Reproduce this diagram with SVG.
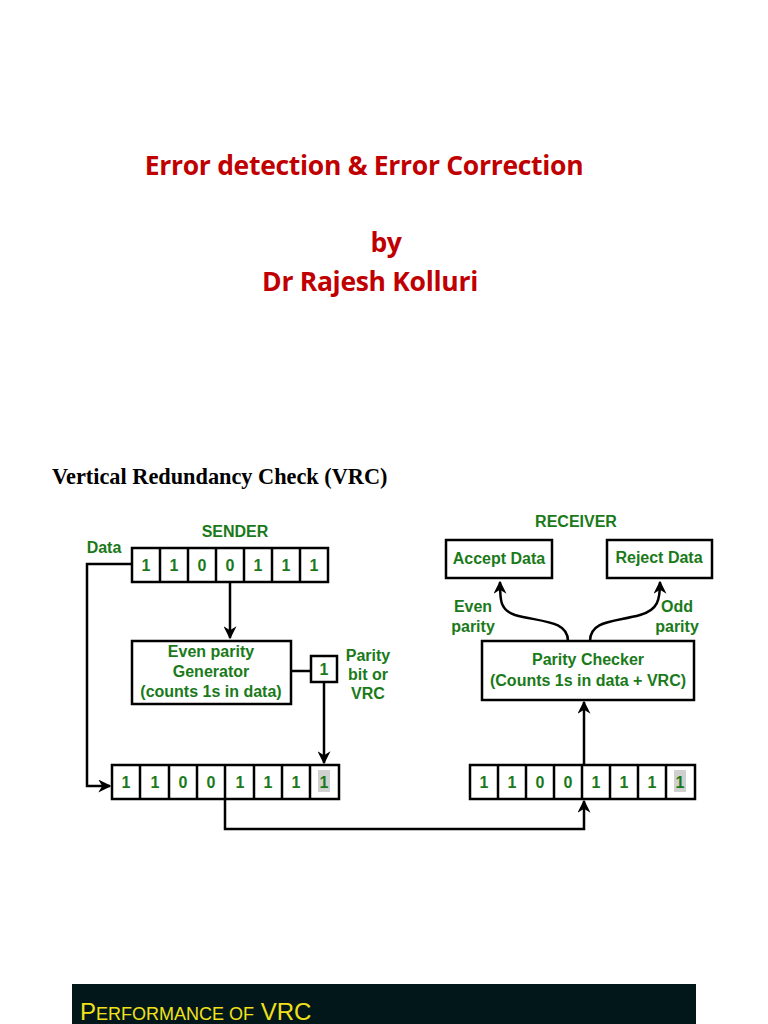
<svg xmlns="http://www.w3.org/2000/svg" width="768" height="1024" viewBox="0 0 768 1024">
<defs>
<marker id="ah" viewBox="0 0 10 10" refX="9" refY="5" markerWidth="13" markerHeight="13" markerUnits="userSpaceOnUse" orient="auto"><path d="M0,0 L10,5 L0,10 L3,5 z" fill="#000"/></marker>
<style>
.t{font-family:"Open Sans","Noto Sans",sans-serif;font-weight:bold;fill:#c00000;font-size:26.5px;text-anchor:middle;letter-spacing:-0.3px}
.g{font-family:"Liberation Sans",Arial,sans-serif;font-weight:bold;fill:#1a7a1a;font-size:16px;text-anchor:middle}
.b{fill:#fff;stroke:#000;stroke-width:2.5}
.c{fill:none;stroke:#000;stroke-width:2.5}
</style>
</defs>
<rect width="768" height="1024" fill="#fff"/>
<text class="t" x="364" y="175">Error detection &amp; Error Correction</text>
<text class="t" x="386" y="252">by</text>
<text class="t" x="370" y="291">Dr Rajesh Kolluri</text>
<text x="52" y="484" font-family="Liberation Serif,serif" font-weight="bold" font-size="22.3">Vertical Redundancy Check (VRC)</text>
<text class="g" x="235" y="537">SENDER</text>
<text class="g" x="576" y="527">RECEIVER</text>
<text class="g" x="104" y="553">Data</text>
<text class="g" x="368" y="661">Parity</text>
<text class="g" x="368" y="680">bit or</text>
<text class="g" x="368" y="699">VRC</text>
<text class="g" x="473" y="612">Even</text>
<text class="g" x="473" y="632">parity</text>
<text class="g" x="677" y="612">Odd</text>
<text class="g" x="677" y="632">parity</text>
<g id="connectors">
<path class="c" d="M132,564 H87 V786 H110" marker-end="url(#ah)"/>
<path class="c" d="M230,582 V638" marker-end="url(#ah)"/>
<path class="c" d="M291,671 H311"/>
<path class="c" d="M324,682 V763" marker-end="url(#ah)"/>
<path class="c" d="M225,799 V829 H584 V801" marker-end="url(#ah)"/>
<path class="c" d="M584,765 V702" marker-end="url(#ah)"/>
<path class="c" d="M568,641 C568,620 540,622 515,615 C500,610 500,600 500,582" marker-end="url(#ah)"/>
<path class="c" d="M590,641 C590,620 615,622 640,615 C658,610 660,600 660,582" marker-end="url(#ah)"/>
</g>
<g id="sender-data">
<rect class="b" x="132" y="548" width="196" height="34"/>
<path class="c" d="M160,548V582M188,548V582M216,548V582M244,548V582M272,548V582M300,548V582"/>
<text class="g" x="146" y="571">1</text><text class="g" x="174" y="571">1</text><text class="g" x="202" y="571">0</text><text class="g" x="230" y="571">0</text><text class="g" x="258" y="571">1</text><text class="g" x="286" y="571">1</text><text class="g" x="314" y="571">1</text>
</g>
<g id="generator">
<rect class="b" x="132" y="641" width="159" height="63"/>
<text class="g" x="211" y="657">Even parity</text>
<text class="g" x="211" y="677">Generator</text>
<text class="g" x="211" y="697">(counts 1s in data)</text>
</g>
<g id="parity-bit">
<rect class="b" x="311" y="656" width="26" height="26"/>
<text class="g" x="324" y="675">1</text>
</g>
<g id="sender-packet">
<rect class="b" x="112" y="765" width="227" height="34"/>
<rect x="318" y="770" width="12" height="22" fill="#d0d0d0"/>
<path class="c" d="M140,765V799M169,765V799M197,765V799M225,765V799M254,765V799M282,765V799M310,765V799"/>
<text class="g" x="126" y="788">1</text><text class="g" x="155" y="788">1</text><text class="g" x="183" y="788">0</text><text class="g" x="211" y="788">0</text><text class="g" x="240" y="788">1</text><text class="g" x="268" y="788">1</text><text class="g" x="296" y="788">1</text><text class="g" x="324" y="788">1</text>
</g>
<g id="receiver-packet">
<rect class="b" x="470" y="765" width="225" height="34"/>
<rect x="674" y="770" width="12" height="22" fill="#d0d0d0"/>
<path class="c" d="M498,765V799M526,765V799M554,765V799M582,765V799M610,765V799M638,765V799M666,765V799"/>
<text class="g" x="484" y="788">1</text><text class="g" x="512" y="788">1</text><text class="g" x="540" y="788">0</text><text class="g" x="568" y="788">0</text><text class="g" x="596" y="788">1</text><text class="g" x="624" y="788">1</text><text class="g" x="652" y="788">1</text><text class="g" x="680" y="788">1</text>
</g>
<g id="checker">
<rect class="b" x="482" y="641" width="212" height="59"/>
<text class="g" x="588" y="665">Parity Checker</text>
<text class="g" x="588" y="686">(Counts 1s in data + VRC)</text>
</g>
<g id="accept">
<rect class="b" x="446" y="540" width="106" height="38"/>
<text class="g" x="499" y="564">Accept Data</text>
</g>
<g id="reject">
<rect class="b" x="607" y="540" width="105" height="38"/>
<text class="g" x="659" y="563">Reject Data</text>
</g>
<rect x="72" y="984" width="624" height="40" fill="#02171a"/>
<text x="80" y="1020" font-family="Liberation Sans,Arial,sans-serif" font-size="24" fill="#f2e11a">P<tspan font-size="18">ERFORMANCE OF</tspan> VRC</text>
</svg>
